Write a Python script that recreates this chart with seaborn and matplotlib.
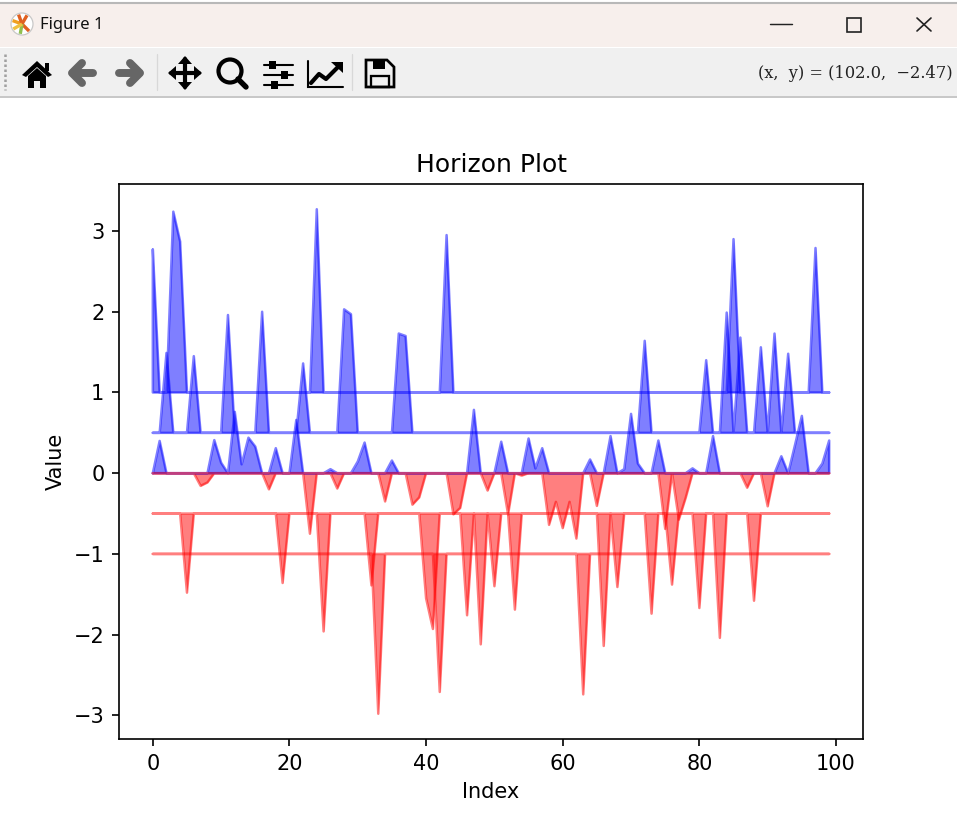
#!/usr/bin/env python3

import matplotlib

matplotlib.use("Agg")

import matplotlib.pyplot as plt
import numpy as np
import seaborn as sns
from matplotlib.patches import Circle, Polygon, Rectangle

sns.set_theme(
    style="ticks",
    rc={
        "axes.edgecolor": "black",
        "axes.labelcolor": "black",
        "axes.linewidth": 0.8,
        "axes.labelsize": 10,
        "axes.titlesize": 12,
        "text.color": "black",
        "xtick.color": "black",
        "ytick.color": "black",
        "xtick.labelsize": 10,
        "ytick.labelsize": 10,
        "xtick.major.size": 3.5,
        "ytick.major.size": 3.5,
        "xtick.major.width": 0.8,
        "ytick.major.width": 0.8,
    },
)
plt.rcParams["font.family"] = ["DejaVu Sans"]

# what each band shows at each index
values = [
    2.77, 0.40, 1.49, 3.24, 2.87, -1.48, 1.45, -0.157, -0.115, 0.41,
    0.13, 1.96, 0.76, 0.11, 0.44, 0.33, 2.00, -0.20, 0.31, -1.36,
    0.00, 0.66, 1.36, -0.75, 3.27, -1.96, 0.05, -0.19, 2.03, 1.97,
    0.145, 0.38, -1.39, -2.98, -0.35, 0.157, 1.73, 1.70, -0.39, -0.30,
    -1.55, -1.93, -2.71, 2.95, -0.51, -0.43, -1.76, 0.785, -2.12, -0.215,
    -1.40, 0.39, -0.51, -1.69, -0.03, 0.43, 0.06, 0.31, -0.64, -0.355,
    -0.68, -0.355, -0.81, -2.74, 0.17, -0.405, -2.14, 0.46, -1.41, 0.05,
    0.735, 0.12, 1.64, -1.74, 0.405, -0.69, -1.38, -0.575, -0.305, 0.06,
    -1.67, 1.40, 0.46, -2.04, 1.99, 2.90, 1.68, -0.18, -1.58, 1.56,
    -0.41, 1.73, 0.21, 1.48, 0.35, 0.71, 0.00, 2.79, 0.12, 0.405,
]
band_bases = [0.0, 0.5, 1.0]
band_limits = [(0.0, 1.0), (1.0, 2.5), (2.5, 99.0)]

x = np.arange(len(values))
y = np.array(values)

fig = plt.figure(figsize=(957 / 150, 815 / 150), dpi=150, facecolor="white")
ax = fig.add_axes([119 / 957, 76 / 815, 744 / 957, 555 / 815])

for sign, colour in [(1, "blue"), (-1, "red")]:
    for base, (low, high) in zip(band_bases, band_limits):
        inside = (sign * y > low) & (sign * y <= high)
        layer = np.where(inside, y, sign * base)
        ax.fill_between(x, sign * base, layer, color=colour, alpha=0.5, linewidth=0)
        # outline of the filled shape, closed along its base
        path_x = np.r_[x, x[-1], x[0], x[0]]
        path_y = np.r_[layer, sign * base, sign * base, layer[0]]
        sns.lineplot(
            x=path_x,
            y=path_y,
            sort=False,
            estimator=None,
            color=colour,
            alpha=0.5,
            linewidth=1.2,
            ax=ax,
        )

ax.set_title("Horizon Plot")
ax.set_xlabel("Index")
ax.set_ylabel("Value")

# window frame and toolbar, in pixels of the picture
ui = fig.add_axes([0, 0, 1, 1], zorder=-1)
ui.set_xlim(0, 957)
ui.set_ylim(815, 0)
ui.axis("off")

ui.add_patch(Rectangle((0, 3), 957, 44, color="#f7efec", lw=0))
ui.add_patch(Rectangle((0, 48), 957, 48, color="#f0f0f0", lw=0))
ui.plot([0, 957], [3, 3], color="#b8b8b8", lw=1)
ui.plot([0, 957], [96.5, 96.5], color="#bdbdbd", lw=0.8)

# app icon
ui.add_patch(Circle((22, 24), 11, fc="white", ec="#c8c8c8", lw=0.6))
for angle, c in zip([200, 250, 300, 45, 100, 150], ["#f0a020", "#e06020", "#e06020", "#e06020", "#90c050", "#f0c040"]):
    t = np.radians(angle)
    ui.plot([22, 22 + 10 * np.cos(t)], [24, 24 + 10 * np.sin(t)], color=c, lw=1.6, solid_capstyle="butt")

ui.text(40, 25, "Figure 1", family="Noto Sans", fontsize=8, color="#111111", va="center", ha="left")

# window buttons
ui.plot([770, 792], [24, 24], color="#222222", lw=0.7)
ui.add_patch(Rectangle((847, 18), 13.5, 13.5, fc="none", ec="#222222", lw=0.8))
ui.plot([917, 931], [18, 31], color="#222222", lw=0.8)
ui.plot([917, 931], [31, 18], color="#222222", lw=0.8)

# toolbar grip and separators
ui.plot([5, 5], [54, 90], color="#a0a0a0", lw=1.2, ls=(0, (1, 1)))
ui.plot([156.5, 156.5], [54, 90], color="#d8d8d8", lw=0.6)
ui.plot([351.5, 351.5], [54, 90], color="#d8d8d8", lw=0.6)

# home
ui.add_patch(Polygon([[22, 75], [37, 61], [52, 75], [48, 77], [37, 67], [26, 77]], fc="black", lw=0))
ui.add_patch(Polygon([[28, 76], [37, 68], [46, 76], [46, 88], [40, 88], [40, 81], [34, 81], [34, 88], [28, 88]], fc="black", lw=0))
ui.add_patch(Rectangle((45, 63), 4, 8, fc="black", lw=0))

# back and forward
for cx, d in [(83, -1), (129, 1)]:
    ui.plot([cx - d * 10, cx + d * 10], [73, 73], color="#666666", lw=3.8, solid_capstyle="round")
    ui.plot([cx + d, cx + d * 11, cx + d], [63, 73, 83], color="#666666", lw=3.8, solid_capstyle="round", solid_joinstyle="round")

# move
ui.plot([171, 199], [73, 73], color="black", lw=2)
ui.plot([185, 185], [59, 87], color="black", lw=2)
for tri in (
    [[168, 73], [176, 66], [176, 80]],
    [[202, 73], [194, 66], [194, 80]],
    [[185, 56], [178, 64], [192, 64]],
    [[185, 90], [178, 82], [192, 82]],
):
    ui.add_patch(Polygon(tri, fc="black", lw=0))

# zoom
ui.add_patch(Circle((230, 71), 11.5, fc="none", ec="black", lw=2))
ui.plot([238, 246], [79, 87], color="black", lw=2.6, solid_capstyle="round")

# sliders
for row, knob in [(65, 272), (75, 284), (85, 274)]:
    ui.plot([264, 293], [row, row], color="black", lw=1)
    ui.add_patch(Rectangle((knob - 3, row - 4), 7, 8, fc="black", lw=0))

# line chart
ui.plot([308, 308, 343], [61, 87, 87], color="black", lw=1, solid_joinstyle="miter")
ui.plot([311, 319, 326, 339], [83, 74, 79, 66], color="black", lw=2)
ui.add_patch(Polygon([[331, 62], [343, 62], [343, 73]], fc="black", lw=0))

# save
ui.add_patch(Polygon([[366, 60], [387, 60], [394, 67], [394, 87], [366, 87]], fc="none", ec="black", lw=1.3))
ui.add_patch(Rectangle((373, 60), 12, 9, fc="black", lw=0))
ui.add_patch(Rectangle((371, 76), 18, 11, fc="none", ec="black", lw=1.1))

ui.text(953, 73, "(x,  y) = (102.0,  \u22122.47)", family="DejaVu Serif", fontsize=7.8,
        color="#222222", va="center", ha="right")

fig.savefig("out.png", dpi=150)
